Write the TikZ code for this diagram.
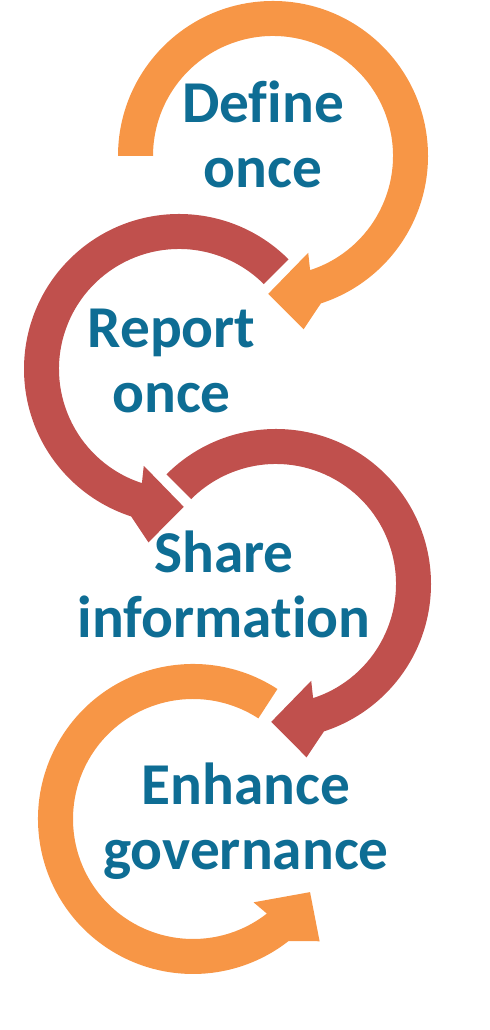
\documentclass[tikz,border=0pt]{standalone}
\usepackage{fontspec}
\setmainfont{Carlito}[Ligatures=NoCommon]
\usepackage{tikz}
\usetikzlibrary{positioning}
\usetikzlibrary{calc}
\definecolor{loopOrange}{HTML}{F79646}
\definecolor{loopRed}{HTML}{C0504D}
\definecolor{mottoBlue}{HTML}{0E6D94}

\begin{document}
\begin{tikzpicture}[x=0.75pt,y=0.75pt]
\tikzstyle{motto} = [text=mottoBlue, align=center, inner sep=0pt, anchor=base,
font=\bfseries\fontsize{44.5}{48.75}\selectfont]
\tikzstyle{orangeloop} = [fill=loopOrange]
\tikzstyle{redloop} = [fill=loopRed]
\useasboundingbox (0,0) rectangle (489,1030);
\coordinate (c1) at (273,874);
\coordinate (c2) at (179,661);
\coordinate (c3) at (276,446);
\coordinate (c4) at (193,211);
% arrow 1
\begin{scope}[shift={(c1)}]
\fill[orangeloop] (180:155) arc[start angle=180, end angle=-72, radius=155]
  -- (-80:176) -- (-92:138) -- (-70:103) -- (-72:120)
  arc[start angle=-72, end angle=180, radius=120] -- cycle;
\end{scope}
% arrow 2
\begin{scope}[shift={(c2)}]
\fill[redloop] (45:155) arc[start angle=45, end angle=252, radius=155]
  -- (260:176) -- (272:138) -- (250:103) -- (252:120)
  arc[start angle=252, end angle=45, radius=120] -- cycle;
\end{scope}
% arrow 3
\begin{scope}[shift={(c3)}]
\fill[redloop] (135:155) arc[start angle=135, end angle=-72, radius=155]
  -- (-80:176) -- (-92:138) -- (-70:103) -- (-72:120)
  arc[start angle=-72, end angle=135, radius=120] -- cycle;
\end{scope}
% arrow 4
\begin{scope}[shift={(c4)}]
\fill[orangeloop] (57:155) arc[start angle=57, end angle=308, radius=155]
  -- (316:176) -- (328:138) -- (306:103) -- (308:120)
  arc[start angle=308, end angle=57, radius=120] -- cycle;
\end{scope}
% texts (base = last line)
\node [motto] (define) at (263,842) {Define\\once};
\node [motto] (report) at (171.5,617) {Report\\once};
\node [motto] (share) at (224,392) {Share\\information};
\node [motto] (enhance) at (246,160) {Enhance\\governance};
\end{tikzpicture}
\end{document}
